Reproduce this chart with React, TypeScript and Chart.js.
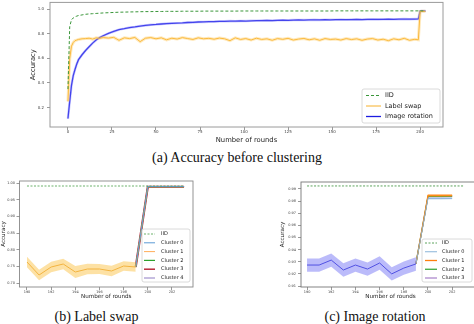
import React, { useEffect, useRef } from 'react';
import { Chart, registerables } from 'chart.js';
Chart.register(...registerables);
Chart.defaults.font.family = 'DejaVu Sans';

// ---------- (a) Accuracy before clustering ----------
const roundsA = [0,1,2,3,4,5,6,8,10,12,14,16,18,20,
  23,26,29,32,35,38,41,44,47,50,
  53,56,59,62,65,68,71,74,77,80,
  83,86,89,92,95,98,101,104,107,110,
  113,116,119,122,125,128,131,134,137,140,
  143,146,149,152,155,158,161,164,167,170,
  173,176,179,182,185,188,191,194,197,
  199,200,201,203];
const iidA = [0.35,0.86,0.915,0.93,0.94,0.945,0.95,0.955,0.96,0.963,0.965,0.967,0.969,0.971,
  0.973,0.975,0.977,0.978,0.979,0.980,0.981,0.982,0.982,0.983,
  0.983,0.984,0.984,0.984,0.985,0.985,0.985,0.985,0.986,0.986,
  0.986,0.986,0.986,0.986,0.986,0.987,0.987,0.987,0.987,0.987,
  0.987,0.987,0.987,0.987,0.987,0.987,0.987,0.987,0.987,0.987,
  0.987,0.987,0.987,0.988,0.988,0.988,0.988,0.988,0.988,0.988,
  0.988,0.988,0.988,0.988,0.988,0.988,0.988,0.988,0.988,
  0.988,0.988,0.988,0.988];
const swapA = [0.25,0.60,0.70,0.73,0.745,0.75,0.755,0.76,0.762,0.765,0.758,0.768,0.764,0.77,
  0.766,0.772,0.748,0.768,0.762,0.771,0.737,0.765,0.770,0.760,
  0.768,0.752,0.765,0.758,0.770,0.762,0.755,0.768,0.760,0.764,
  0.757,0.766,0.760,0.745,0.768,0.755,0.762,0.750,0.765,0.755,
  0.760,0.748,0.762,0.756,0.764,0.750,0.758,0.763,0.752,0.760,
  0.748,0.762,0.755,0.758,0.750,0.762,0.754,0.760,0.748,0.758,
  0.762,0.750,0.757,0.745,0.760,0.752,0.764,0.748,0.756,
  0.752,0.982,0.984,0.984];
const rotA = [0.11,0.25,0.38,0.46,0.51,0.555,0.59,0.63,0.665,0.695,0.725,0.75,0.77,0.785,
  0.805,0.82,0.835,0.843,0.852,0.857,0.864,0.869,0.874,0.877,
  0.881,0.884,0.886,0.888,0.890,0.893,0.894,0.897,0.898,0.900,
  0.901,0.903,0.903,0.905,0.904,0.906,0.905,0.907,0.908,0.909,
  0.910,0.909,0.911,0.912,0.911,0.913,0.914,0.913,0.914,0.915,
  0.914,0.916,0.915,0.916,0.917,0.916,0.917,0.918,0.917,0.918,
  0.919,0.918,0.919,0.920,0.919,0.920,0.921,0.920,0.921,
  0.922,0.986,0.987,0.987];
const xTicksA = [0,25,50,75,100,125,150,175,200];
const yTicksA = [0.2,0.4,0.6,0.8,1.0];

// ---------- (b) Label swap ----------
const iidRoundsB = [190,191,192,193,194,195,196,197,198,199,200,201,202,203];
const iidB = [0.991,0.991,0.991,0.991,0.991,0.991,0.991,0.991,0.991,0.991,0.991,0.991,0.991,0.991];
const preRoundsB = [190,191,192,193,194,195,196,197,198,199];
const swapPreB = [0.763,0.724,0.748,0.757,0.733,0.742,0.742,0.736,0.751,0.748];
const swapHiB = [0.779,0.740,0.764,0.773,0.751,0.758,0.757,0.752,0.765,0.762];
const swapLoB = [0.747,0.708,0.732,0.741,0.715,0.726,0.727,0.720,0.737,0.734];
const postRoundsB = [199,200,201,202,203];
const cluster0B = [0.748,0.9895,0.9895,0.9895,0.9895];
const cluster1B = [0.748,0.989,0.989,0.989,0.989];
const cluster2B = [0.748,0.9892,0.9892,0.9892,0.9892];
const cluster3B = [0.748,0.9888,0.9888,0.9888,0.9888];
const cluster4B = [0.748,0.989,0.989,0.989,0.989];
const xTicksB = [190,192,194,196,198,200,202];
const yTicksB = [0.70,0.75,0.80,0.85,0.90,0.95,1.00];

// ---------- (c) Image rotation ----------
const iidRoundsC = [190,191,192,193,194,195,196,197,198,199,200,201,202,203];
const iidC = [0.9925,0.9925,0.9925,0.9925,0.9925,0.9925,0.9925,0.9925,0.9925,0.9925,0.9925,0.9925,0.9925,0.9925];
const preRoundsC = [190,191,192,193,194,195,196,197,198,199];
const rotPreC = [0.9273,0.9273,0.9314,0.9232,0.9273,0.9240,0.9290,0.9200,0.9248,0.9282];
const rotHiC = [0.9328,0.9328,0.9369,0.9287,0.9328,0.9295,0.9345,0.9255,0.9303,0.9337];
const rotLoC = [0.9218,0.9218,0.9259,0.9177,0.9218,0.9185,0.9235,0.9145,0.9193,0.9227];
const postRoundsC = [199,200,201,202];
const cluster0C = [0.9282,0.9823,0.9823,0.9823];
const cluster1C = [0.9282,0.9847,0.9847,0.9848];
const cluster2C = [0.9282,0.9840,0.9840,0.9841];
const cluster3C = [0.9282,0.9836,0.9836,0.9837];
const cluster1HiC = [0.9282,0.9856,0.9856,0.9857];
const cluster1LoC = [0.9282,0.9835,0.9835,0.9836];
const cluster0HiC = [0.9282,0.9830,0.9830,0.9830];
const cluster0LoC = [0.9282,0.9814,0.9814,0.9815];
const xTicksC = [190,192,194,196,198,200,202];
const yTicksC = [0.91,0.92,0.93,0.94,0.95,0.96,0.97,0.98,0.99];

const pts = (xs: number[], ys: number[]) => xs.map((x, i) => ({ x, y: ys[i] }));

const framePlugin = {
  id: 'frame',
  afterDatasetsDraw(chart: any, _a: any, opts: any) {
    const { left, top, right, bottom } = chart.chartArea;
    const ctx = chart.ctx;
    ctx.save();
    ctx.strokeStyle = opts.color || '#888';
    ctx.lineWidth = opts.width || 1;
    ctx.strokeRect(left, top, right - left, bottom - top);
    ctx.restore();
  },
};

const boxLegend = {
  id: 'boxLegend',
  afterDraw(chart: any, _a: any, o: any) {
    const ctx = chart.ctx;
    ctx.save();
    ctx.fillStyle = 'rgba(255,255,255,0.9)';
    ctx.strokeStyle = '#d0d0d0';
    ctx.lineWidth = 0.8;
    ctx.beginPath();
    if ((ctx as any).roundRect) (ctx as any).roundRect(o.x, o.y, o.w, o.h, 2);
    else ctx.rect(o.x, o.y, o.w, o.h);
    ctx.fill();
    ctx.stroke();
    const items = chart.data.datasets.filter((d: any) => d.label);
    items.forEach((d: any, i: number) => {
      const cy = o.y0 + i * o.rowH;
      ctx.strokeStyle = d.borderColor;
      ctx.lineWidth = Math.min(d.borderWidth, 1.5);
      ctx.setLineDash(d.borderDash || []);
      ctx.beginPath();
      ctx.moveTo(o.lx0, cy);
      ctx.lineTo(o.lx1, cy);
      ctx.stroke();
      ctx.setLineDash([]);
      ctx.fillStyle = '#222';
      ctx.font = `${o.font}px "DejaVu Sans"`;
      ctx.textBaseline = 'middle';
      ctx.textAlign = 'left';
      ctx.fillText(d.label, o.tx, cy);
    });
    ctx.restore();
  },
};

function makeScales(o: any) {
  const gridCfg = { display: true, drawOnChartArea: false, drawTicks: true, tickLength: 3, tickColor: '#555', tickWidth: 0.6 };
  return {
    x: {
      type: 'linear', min: o.xmin, max: o.xmax,
      afterBuildTicks: (s: any) => { s.ticks = o.xticks.map((v: number) => ({ value: v })); },
      afterFit: (s: any) => { s.height = o.xH; },
      ticks: { autoSkip: false, maxRotation: 0, padding: 0, color: '#444', font: { size: o.tickSize }, callback: (v: any) => String(v) },
      grid: gridCfg,
      border: { display: false },
      title: { display: true, text: 'Number of rounds', color: '#222', font: { size: o.titleSize }, padding: { top: 0, bottom: o.xTitlePad } },
    },
    y: {
      type: 'linear', min: o.ymin, max: o.ymax,
      afterBuildTicks: (s: any) => { s.ticks = o.yticks.map((v: number) => ({ value: v })); },
      afterFit: (s: any) => { s.width = o.yW; },
      ticks: { autoSkip: false, padding: o.yTickPad, color: '#444', font: { size: o.tickSize }, callback: (v: any) => Number(v).toFixed(o.yDec) },
      grid: gridCfg,
      border: { display: false },
      title: { display: true, text: 'Accuracy', color: '#222', font: { size: o.titleSize }, padding: { top: o.yTitlePad, bottom: 0 } },
    },
  };
}

const line = (label: string | undefined, data: any[], color: string, width: number, extra: any = {}) => ({
  label, data, borderColor: color, backgroundColor: color, borderWidth: width,
  pointRadius: 0, tension: 0, fill: false, ...extra,
});

const configA: any = {
  type: 'line',
  data: {
    datasets: [
      line('IID', pts(roundsA, iidA), '#3a963a', 1, { borderDash: [3, 2] }),
      line(undefined, pts(roundsA, swapA), 'rgba(255,200,90,0.4)', 3),
      line('Label swap', pts(roundsA, swapA), '#f7b02a', 1),
      line(undefined, pts(roundsA, rotA), 'rgba(130,130,255,0.4)', 2.5),
      line('Image rotation', pts(roundsA, rotA), '#1c1ce0', 1.3),
    ],
  },
  options: {
    responsive: false, animation: false,
    layout: { padding: { left: 0, right: 31, top: 0, bottom: 0 } },
    plugins: {
      legend: { display: false }, tooltip: { enabled: false },
      frame: { color: '#9a9a9a', width: 1 },
      boxLegend: { x: 362, y: 92, w: 78, h: 34, y0: 98.5, rowH: 10.5, lx0: 366, lx1: 381, tx: 385, font: 6.5 },
    },
    scales: makeScales({ xmin: -10.2, xmax: 213, ymin: 0.041, ymax: 1.057, xticks: xTicksA, yticks: yTicksA, xH: 20, yW: 50, tickSize: 4, titleSize: 6.8, xTitlePad: 2.9, yTitlePad: 28.9, yTickPad: 3, yDec: 1 }),
  },
  plugins: [framePlugin, boxLegend],
};

const configB: any = {
  type: 'line',
  data: {
    datasets: [
      line('IID', pts(iidRoundsB, iidB), '#5aa85a', 0.9, { borderDash: [2, 1.5] }),
      line(undefined, pts(preRoundsB, swapLoB), 'rgba(0,0,0,0)', 0),
      line(undefined, pts(preRoundsB, swapHiB), 'rgba(0,0,0,0)', 0, { fill: '-1', backgroundColor: 'rgba(252,200,90,0.55)' }),
      line(undefined, pts(preRoundsB, swapPreB), '#e89a20', 1),
      line('Cluster 0', pts(postRoundsB, cluster0B), '#5b9bd5', 1),
      line('Cluster 1', pts(postRoundsB, cluster1B), '#ffae5a', 1),
      line('Cluster 2', pts(postRoundsB, cluster2B), '#2ca02c', 1.2),
      line('Cluster 3', pts(postRoundsB, cluster3B), '#b8283a', 2.2),
      line('Cluster 4', pts(postRoundsB, cluster4B), '#8e7cc3', 1),
    ],
  },
  options: {
    responsive: false, animation: false,
    layout: { padding: { left: 0, right: 7, top: 6, bottom: 0 } },
    plugins: {
      legend: { display: false }, tooltip: { enabled: false },
      frame: { color: '#888', width: 0.9 },
      boxLegend: { x: 142, y: 54, w: 48, h: 53, y0: 59, rowH: 8.8, lx0: 144, lx1: 155, tx: 161, font: 5 },
    },
    scales: makeScales({ xmin: 189.38, xmax: 203.74, ymin: 0.688, ymax: 1.006, xticks: xTicksB, yticks: yTicksB, xH: 18, yW: 19.5, tickSize: 3.5, titleSize: 5.6, xTitlePad: 4.6, yTitlePad: 0, yTickPad: 1.5, yDec: 2 }),
  },
  plugins: [framePlugin, boxLegend],
};

const configC: any = {
  type: 'line',
  data: {
    datasets: [
      line('IID', pts(iidRoundsC, iidC), '#4a9a4a', 0.9, { borderDash: [2, 1.5] }),
      line(undefined, pts(preRoundsC, rotLoC), 'rgba(0,0,0,0)', 0),
      line(undefined, pts(preRoundsC, rotHiC), 'rgba(0,0,0,0)', 0, { fill: '-1', backgroundColor: 'rgba(120,120,245,0.5)' }),
      line(undefined, pts(preRoundsC, rotPreC), '#2a2ad0', 1),
      line(undefined, pts(postRoundsC, cluster1LoC), 'rgba(0,0,0,0)', 0),
      line(undefined, pts(postRoundsC, cluster1HiC), 'rgba(0,0,0,0)', 0, { fill: '-1', backgroundColor: 'rgba(255,150,40,0.5)' }),
      line(undefined, pts(postRoundsC, cluster0LoC), 'rgba(0,0,0,0)', 0),
      line(undefined, pts(postRoundsC, cluster0HiC), 'rgba(0,0,0,0)', 0, { fill: '-1', backgroundColor: 'rgba(140,180,220,0.5)' }),
      line('Cluster 0', pts(postRoundsC, cluster0C), '#8ab4d8', 1),
      line('Cluster 1', pts(postRoundsC, cluster1C), '#ff7f0e', 1.3),
      line('Cluster 2', pts(postRoundsC, cluster2C), '#2ca02c', 1.2),
      line('Cluster 3', pts(postRoundsC, cluster3C), '#9467bd', 1),
    ],
  },
  options: {
    responsive: false, animation: false,
    layout: { padding: { left: 0, right: 0, top: 7, bottom: 0 } },
    plugins: {
      legend: { display: false }, tooltip: { enabled: false },
      frame: { color: '#777', width: 0.9 },
      boxLegend: { x: 152, y: 64, w: 50, h: 43, y0: 68, rowH: 8.75, lx0: 155, lx1: 167, tx: 172, font: 5 },
    },
    scales: makeScales({ xmin: 189.5, xmax: 204.3, ymin: 0.9092, ymax: 0.99577, xticks: xTicksC, yticks: yTicksC, xH: 18, yW: 31, tickSize: 3.5, titleSize: 5.6, xTitlePad: 4.6, yTitlePad: 9.6, yTickPad: 2, yDec: 2 }),
  },
  plugins: [framePlugin, boxLegend],
};

function ChartCanvas({ config, left, top, width, height }: any) {
  const ref = useRef<HTMLCanvasElement>(null);
  useEffect(() => {
    const chart = new Chart(ref.current as HTMLCanvasElement, config);
    return () => chart.destroy();
  }, [config]);
  return (
    <canvas ref={ref} width={width} height={height}
      style={{ position: 'absolute', left, top, width, height }} />
  );
}

const capStyle: any = {
  position: 'absolute', textAlign: 'center', fontFamily: '"Liberation Serif", serif',
  fontSize: 14, lineHeight: '16px', color: '#111', whiteSpace: 'nowrap',
};

export default function App() {
  return (
    <div style={{ position: 'fixed', left: 0, top: 0, width: 474, height: 324, overflow: 'hidden', background: '#fff' }}>
      <ChartCanvas config={configA} left={0} top={-3} width={474} height={150} />
      <div style={{ ...capStyle, left: 0, width: 474, top: 150 }}>(a) Accuracy before clustering</div>
      <ChartCanvas config={configB} left={0} top={175} width={200} height={130} />
      <div style={{ ...capStyle, left: 0, width: 193, top: 309 }}>(b) Label swap</div>
      <ChartCanvas config={configC} left={270} top={175} width={210} height={130} />
      <div style={{ ...capStyle, left: 300, width: 150, top: 309 }}>(c) Image rotation</div>
    </div>
  );
}
